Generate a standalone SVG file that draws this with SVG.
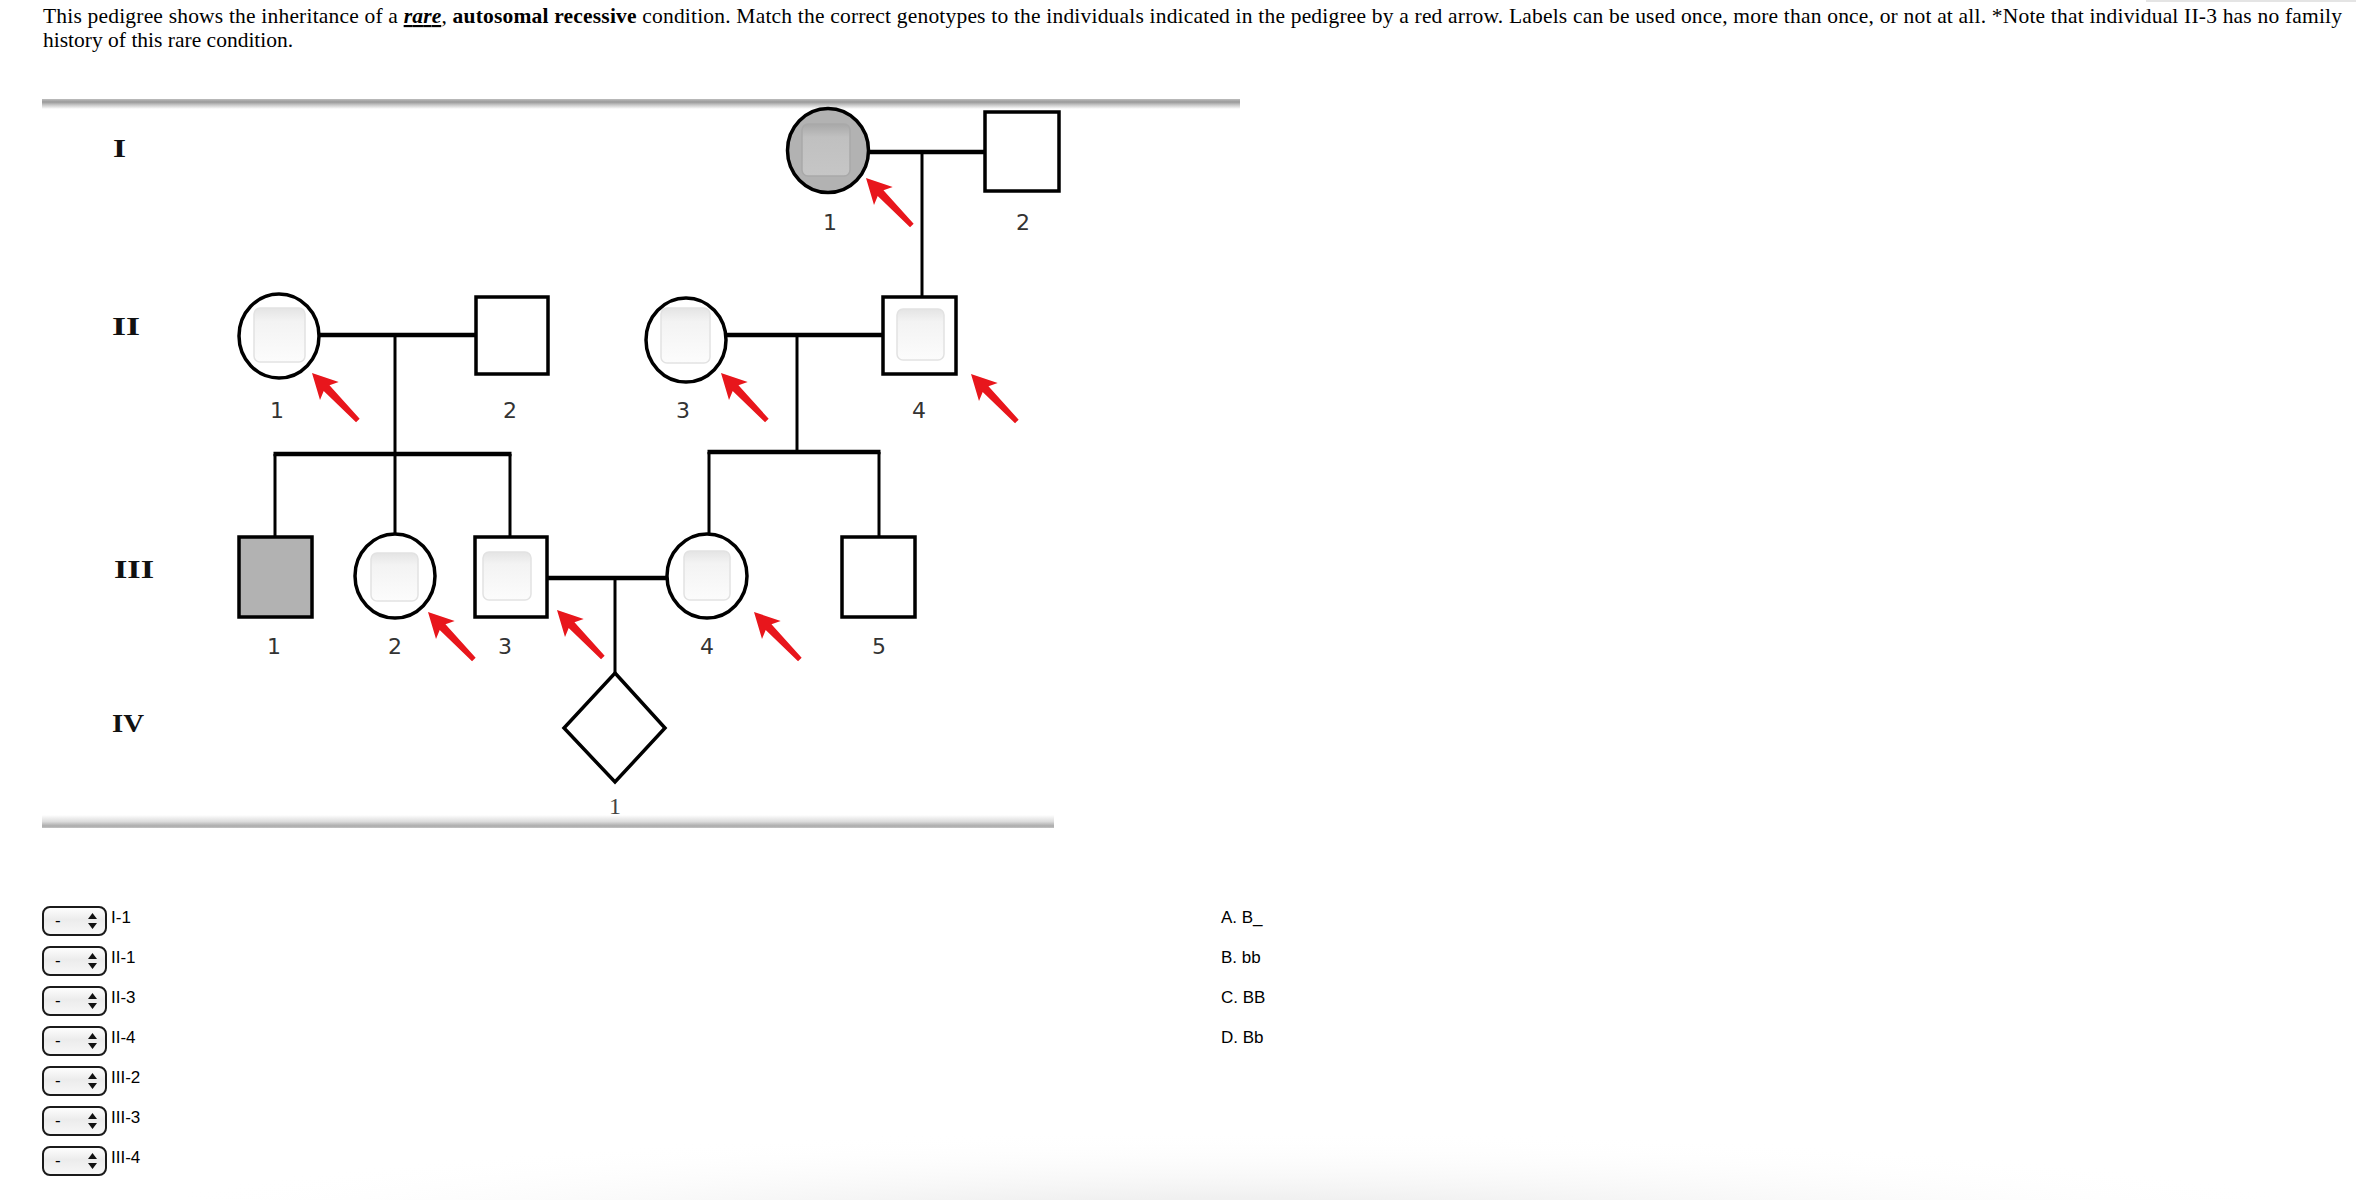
<svg xmlns="http://www.w3.org/2000/svg" xmlns:xlink="http://www.w3.org/1999/xlink" width="2356" height="1200" viewBox="0 0 2356 1200">
<style>
.q{font-family:"Liberation Serif","Times New Roman",serif;font-size:21.5px;fill:#000}
.gen{font-family:"Liberation Serif","Times New Roman",serif;font-size:26px;font-weight:bold;fill:#111}
.num{font-family:"DejaVu Sans","Verdana",sans-serif;font-size:22px;fill:#333;text-anchor:middle}
.numser{font-family:"Liberation Serif","Times New Roman",serif;font-size:24px;fill:#444;text-anchor:middle}
.ui{font-family:"Liberation Sans",Arial,sans-serif;font-size:17px;fill:#000}
.shape{fill:#fff;stroke:#000;stroke-width:3.5}
.aff{fill:#b2b2b2;stroke:#000;stroke-width:3.5}
.hl{fill:url(#hlg);stroke:#e2e2e2;stroke-width:1.5}
.hlg2{fill:url(#hlgray);stroke:#a9a9a9;stroke-width:1.5}
.mate{stroke:#000;stroke-width:4.5;fill:none}
.line{stroke:#000;stroke-width:3;fill:none}
.sel{fill:url(#selg);stroke:#1a1a1a;stroke-width:2}
</style>
<defs>
<linearGradient id="hlg" x1="0" y1="0" x2="0" y2="1">
<stop offset="0" stop-color="#e4e4e4"/>
<stop offset="0.25" stop-color="#f3f3f3"/>
<stop offset="1" stop-color="#fcfcfc"/>
</linearGradient>
<linearGradient id="hlgray" x1="0" y1="0" x2="0" y2="1">
<stop offset="0" stop-color="#a8a8a8"/>
<stop offset="0.25" stop-color="#c0c0c0"/>
<stop offset="1" stop-color="#c6c6c6"/>
</linearGradient>
<linearGradient id="rule1" x1="0" y1="0" x2="0" y2="1">
<stop offset="0" stop-color="#bdbdbd"/>
<stop offset="0.3" stop-color="#9a9a9a"/>
<stop offset="0.6" stop-color="#c8c8c8"/>
<stop offset="1" stop-color="#ffffff"/>
</linearGradient>
<linearGradient id="rule2" x1="0" y1="0" x2="0" y2="1">
<stop offset="0" stop-color="#ffffff"/>
<stop offset="0.5" stop-color="#dcdcdc"/>
<stop offset="0.85" stop-color="#ababab"/>
<stop offset="1" stop-color="#c4c4c4"/>
</linearGradient>
<linearGradient id="selg" x1="0" y1="0" x2="0" y2="1">
<stop offset="0" stop-color="#ffffff"/>
<stop offset="0.45" stop-color="#ececec"/>
<stop offset="1" stop-color="#f7f7f7"/>
</linearGradient>
<radialGradient id="shadow" cx="0.5" cy="0.5" r="0.5">
<stop offset="0" stop-color="#e9e9e9"/>
<stop offset="0.35" stop-color="#f0f0f0"/>
<stop offset="1" stop-color="#ffffff" stop-opacity="0"/>
</radialGradient>
<g id="arr">
<path d="M0,0 L25,-13 L21,-4 L66,-2.5 L66,2.5 L21,4 L25,13 Z" fill="#e8161c"/>
</g>
<g id="updown">
<path d="M4.5,0 L9,6 L0,6 Z M0,10 L9,10 L4.5,16 Z" fill="#111"/>
</g>
</defs>

<rect width="2356" height="1200" fill="#fff"/>
<ellipse cx="1230" cy="1235" rx="1160" ry="105" fill="url(#shadow)"/>
<rect x="2146" y="0" width="210" height="2" fill="#e4e4e4"/>

<g id="question">
<text class="q" x="43" y="23" textLength="2299">This pedigree shows the inheritance of a <tspan font-weight="bold" font-style="italic" text-decoration="underline">rare</tspan>, <tspan font-weight="bold">autosomal recessive</tspan> condition. Match the correct genotypes to the individuals indicated in the pedigree by a red arrow. Labels can be used once, more than once, or not at all. *Note that individual II-3 has no family</text>
<text class="q" x="43" y="46.5">history of this rare condition.</text>
</g>

<g id="rules">
<rect x="42" y="99" width="1198" height="10" fill="url(#rule1)"/>
<rect x="42" y="815" width="1012" height="13" fill="url(#rule2)"/>
</g>

<g id="generations">
<text class="gen" x="113" y="157" textLength="13" lengthAdjust="spacingAndGlyphs">I</text>
<text class="gen" x="112" y="335" textLength="28" lengthAdjust="spacingAndGlyphs">II</text>
<text class="gen" x="114" y="578" textLength="40" lengthAdjust="spacingAndGlyphs">III</text>
<text class="gen" x="112" y="732" textLength="32" lengthAdjust="spacingAndGlyphs">IV</text>
</g>

<g id="connectors">
<line class="mate" x1="869" y1="152" x2="985" y2="152"/>
<line class="line" x1="922" y1="152" x2="922" y2="297"/>
<line class="mate" x1="319" y1="335" x2="476" y2="335"/>
<line class="line" x1="395" y1="335" x2="395" y2="454"/>
<line class="mate" x1="273.5" y1="454" x2="511.5" y2="454"/>
<line class="line" x1="275" y1="454" x2="275" y2="537"/>
<line class="line" x1="395" y1="454" x2="395" y2="534"/>
<line class="line" x1="510" y1="454" x2="510" y2="537"/>
<line class="mate" x1="726" y1="335" x2="883" y2="335"/>
<line class="line" x1="797" y1="335" x2="797" y2="452"/>
<line class="mate" x1="707.5" y1="452" x2="880.5" y2="452"/>
<line class="line" x1="709" y1="452" x2="709" y2="534"/>
<line class="line" x1="879" y1="452" x2="879" y2="537"/>
<line class="mate" x1="547" y1="578" x2="667" y2="578"/>
<line class="line" x1="615" y1="578" x2="615" y2="673"/>
</g>

<g id="I-1">
<ellipse class="aff" cx="828" cy="150.5" rx="40.5" ry="42"/>
<rect class="hlg2" x="802" y="124" width="48" height="52" rx="6"/>
<text class="num" x="830" y="230">1</text>
</g>
<g id="I-2">
<rect class="shape" x="985" y="112" width="74" height="79"/>
<text class="num" x="1023" y="230">2</text>
</g>

<g id="II-1">
<ellipse class="shape" cx="279" cy="336" rx="40" ry="42"/>
<rect class="hl" x="254" y="308" width="51" height="54" rx="6"/>
<text class="num" x="277" y="418">1</text>
</g>
<g id="II-2">
<rect class="shape" x="476" y="297" width="72" height="77"/>
<text class="num" x="510" y="418">2</text>
</g>
<g id="II-3">
<ellipse class="shape" cx="686" cy="340" rx="40" ry="42"/>
<rect class="hl" x="661" y="308" width="49" height="55" rx="6"/>
<text class="num" x="683" y="418">3</text>
</g>
<g id="II-4">
<rect class="shape" x="883" y="297" width="73" height="77"/>
<rect class="hl" x="897" y="309" width="47" height="51" rx="6"/>
<text class="num" x="919" y="418">4</text>
</g>

<g id="III-1">
<rect class="aff" x="239" y="537" width="73" height="80"/>
<text class="num" x="274" y="654">1</text>
</g>
<g id="III-2">
<ellipse class="shape" cx="395" cy="576" rx="40" ry="42"/>
<rect class="hl" x="371" y="553" width="47" height="48" rx="6"/>
<text class="num" x="395" y="654">2</text>
</g>
<g id="III-3">
<rect class="shape" x="475" y="537" width="72" height="80"/>
<rect class="hl" x="483" y="552" width="48" height="48" rx="6"/>
<text class="num" x="505" y="654">3</text>
</g>
<g id="III-4">
<ellipse class="shape" cx="707" cy="576" rx="40" ry="42"/>
<rect class="hl" x="684" y="551" width="46" height="49" rx="6"/>
<text class="num" x="707" y="654">4</text>
</g>
<g id="III-5">
<rect class="shape" x="842" y="537" width="73" height="80"/>
<text class="num" x="879" y="654">5</text>
</g>

<g id="IV-1">
<path class="shape" d="M615,673 L665,728 L615,782 L564,728 Z" stroke-width="3"/>
<text class="numser" x="615" y="814">1</text>
</g>

<g id="pointers">
<use xlink:href="#arr" transform="translate(866,178) rotate(46)"/>
<use xlink:href="#arr" transform="translate(312,373) rotate(46)"/>
<use xlink:href="#arr" transform="translate(721,373) rotate(46)"/>
<use xlink:href="#arr" transform="translate(971,374) rotate(46)"/>
<use xlink:href="#arr" transform="translate(428,612) rotate(46)"/>
<use xlink:href="#arr" transform="translate(557,610) rotate(46)"/>
<use xlink:href="#arr" transform="translate(754,612) rotate(46)"/>
</g>

<g id="selects">
<g id="sel-I-1" transform="translate(0,0)">
<rect class="sel" x="43" y="907" width="63" height="28" rx="7"/>
<text class="ui" x="55" y="926">-</text>
<use xlink:href="#updown" transform="translate(88,913)"/>
<text class="ui" x="111" y="923">I-1</text>
</g>
<g id="sel-II-1" transform="translate(0,40)">
<rect class="sel" x="43" y="907" width="63" height="28" rx="7"/>
<text class="ui" x="55" y="926">-</text>
<use xlink:href="#updown" transform="translate(88,913)"/>
<text class="ui" x="111" y="923">II-1</text>
</g>
<g id="sel-II-3" transform="translate(0,80)">
<rect class="sel" x="43" y="907" width="63" height="28" rx="7"/>
<text class="ui" x="55" y="926">-</text>
<use xlink:href="#updown" transform="translate(88,913)"/>
<text class="ui" x="111" y="923">II-3</text>
</g>
<g id="sel-II-4" transform="translate(0,120)">
<rect class="sel" x="43" y="907" width="63" height="28" rx="7"/>
<text class="ui" x="55" y="926">-</text>
<use xlink:href="#updown" transform="translate(88,913)"/>
<text class="ui" x="111" y="923">II-4</text>
</g>
<g id="sel-III-2" transform="translate(0,160)">
<rect class="sel" x="43" y="907" width="63" height="28" rx="7"/>
<text class="ui" x="55" y="926">-</text>
<use xlink:href="#updown" transform="translate(88,913)"/>
<text class="ui" x="111" y="923">III-2</text>
</g>
<g id="sel-III-3" transform="translate(0,200)">
<rect class="sel" x="43" y="907" width="63" height="28" rx="7"/>
<text class="ui" x="55" y="926">-</text>
<use xlink:href="#updown" transform="translate(88,913)"/>
<text class="ui" x="111" y="923">III-3</text>
</g>
<g id="sel-III-4" transform="translate(0,240)">
<rect class="sel" x="43" y="907" width="63" height="28" rx="7"/>
<text class="ui" x="55" y="926">-</text>
<use xlink:href="#updown" transform="translate(88,913)"/>
<text class="ui" x="111" y="923">III-4</text>
</g>
</g>

<g id="options">
<text class="ui" x="1221" y="923">A. B_</text>
<text class="ui" x="1221" y="963">B. bb</text>
<text class="ui" x="1221" y="1003">C. BB</text>
<text class="ui" x="1221" y="1043">D. Bb</text>
</g>
</svg>
